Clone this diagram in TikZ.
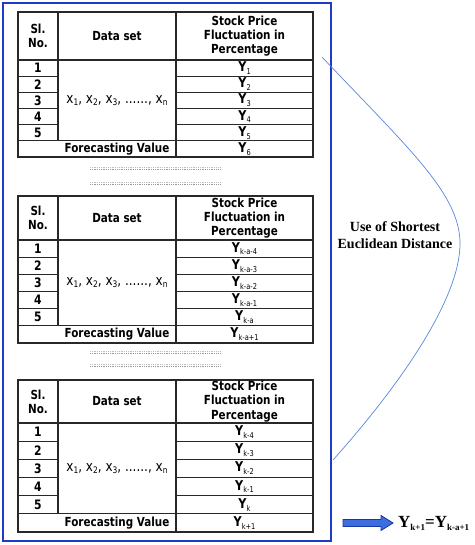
\documentclass[tikz,border=0pt]{standalone}
\usepackage{fontspec}
\setmainfont{Liberation Serif}
\newfontfamily\tabfont{DejaVu Sans}[FakeStretch=0.83]
\usetikzlibrary{arrows.meta}
\definecolor{frameblue}{RGB}{28,60,200}
\definecolor{curveblue}{RGB}{90,135,220}
\definecolor{arrowfill}{RGB}{60,110,225}
\definecolor{arrowline}{RGB}{25,55,160}
\definecolor{tabgray}{RGB}{40,40,40}
\newcommand\Ysub[1]{\textbf{Y}\raisebox{-2.8pt}{\fontsize{8}{8}\selectfont #1}}
\newcommand\Xsub[1]{x\raisebox{-2.2pt}{\fontsize{9}{9}\selectfont #1}}
\tikzset{
  tabline/.style={draw=tabgray, line width=1.3pt},
  hdr/.style={font=\tabfont\bfseries\fontsize{12.5}{14.3}\selectfont, align=center, inner sep=0pt},
  numtxt/.style={font=\tabfont\bfseries\fontsize{13}{13}\selectfont, inner sep=0pt},
  datatxt/.style={font=\tabfont\fontsize{14.5}{14.5}\selectfont, inner sep=0pt},
  ytxt/.style={font=\tabfont\fontsize{13.5}{13.5}\selectfont, inner sep=0pt},
  dotline/.style={draw=gray!80, line width=0.9pt, dash pattern=on 0.9pt off 0.9pt},
  eqtxt/.style={font=\bfseries\fontsize{14}{17}\selectfont, align=center, inner sep=0pt},
}
% #1 prefix, #2 top, #3 header bottom, #4 bottom, #5 label list
\newcommand\mytab[5]{%
  \pgfmathsetmacro\rh{(#4-#3)/6}
  \draw[tabline] (18,#2) rectangle (313,#4);
  \draw[tabline] (58,#2) -- (58,{#3+5*\rh});
  \draw[tabline] (176,#2) -- (176,#4);
  \draw[tabline] (18,#3) -- (313,#3);
  \foreach \i in {1,...,4} {
    \draw[tabline] (18,{#3+\i*\rh}) -- (58,{#3+\i*\rh});
    \draw[tabline] (176,{#3+\i*\rh}) -- (313,{#3+\i*\rh});
  }
  \draw[tabline] (18,{#3+5*\rh}) -- (313,{#3+5*\rh});
  \node[hdr] (#1-sl) at (38,{(#2+#3)/2}) {Sl.\\No.};
  \node[hdr] (#1-ds) at (117,{(#2+#3)/2}) {Data set};
  \node[hdr] (#1-sp) at (244.5,{(#2+#3)/2}) {Stock Price\\Fluctuation in\\Percentage};
  \foreach \i in {1,...,5}
    \node[numtxt] (#1-n\i) at (38,{#3+(\i-0.5)*\rh}) {\i};
  \node[datatxt] (#1-data) at (117,{#3+2.5*\rh}) {\Xsub{1}, \Xsub{2}, \Xsub{3}, ......, \Xsub{n}};
  \foreach \lab [count=\i] in {#5}
    \node[ytxt] (#1-y\i) at (244.5,{#3+(\i-0.5)*\rh}) {\lab};
  \node[hdr] (#1-fv) at (117,{#3+5.5*\rh}) {Forecasting Value};
}
\begin{document}
\begin{tikzpicture}[x=1pt,y=-1pt]
\useasboundingbox (0,0) rectangle (474,545);
\fill[white] (0,0) rectangle (474,545);
\draw[frameblue, line width=2.5pt] (3,3) rectangle (331,541);

\mytab{t1}{12}{60}{157}{\Ysub{1},\Ysub{2},\Ysub{3},\Ysub{4},\Ysub{5},\Ysub{6}}
\mytab{t2}{196}{240}{343}{\Ysub{k-a-4},\Ysub{k-a-3},\Ysub{k-a-2},\Ysub{k-a-1},\Ysub{k-a},\Ysub{k-a+1}}
\mytab{t3}{380}{423}{532}{\Ysub{k-4},\Ysub{k-3},\Ysub{k-2},\Ysub{k-1},\Ysub{k},\Ysub{k+1}}

\foreach \yy in {169,184,353,366} {
  \draw[dotline] (90,\yy) -- (220,\yy);
  \draw[dotline, draw=gray!50] (90,{\yy-2}) -- (220,{\yy-2});
}

\coordinate (cs) at (322,57);
\coordinate (cm) at (460,245);
\coordinate (ce) at (333,460);
\draw[curveblue, line width=0.7pt] (cs) .. controls (410,150) and (461,195) .. (cm)
  .. controls (459,300) and (400,385) .. (ce);

\node[eqtxt] (lbl) at (395,235) {Use of Shortest\\Euclidean Distance};

\draw[arrowline, fill=arrowfill, line width=0.8pt]
  (343,519.5) -- (381,519.5) -- (381,515.5) -- (393,523) -- (381,530.5) -- (381,526.5) -- (343,526.5) -- cycle;
\node[anchor=west, inner sep=0pt, font=\bfseries\fontsize{17}{17}\selectfont] (eq) at (398,523)
  {Y\raisebox{-3pt}{\fontsize{9}{9}\selectfont k+1}=Y\raisebox{-3pt}{\fontsize{9}{9}\selectfont k-a+1}};
\end{tikzpicture}
\end{document}
